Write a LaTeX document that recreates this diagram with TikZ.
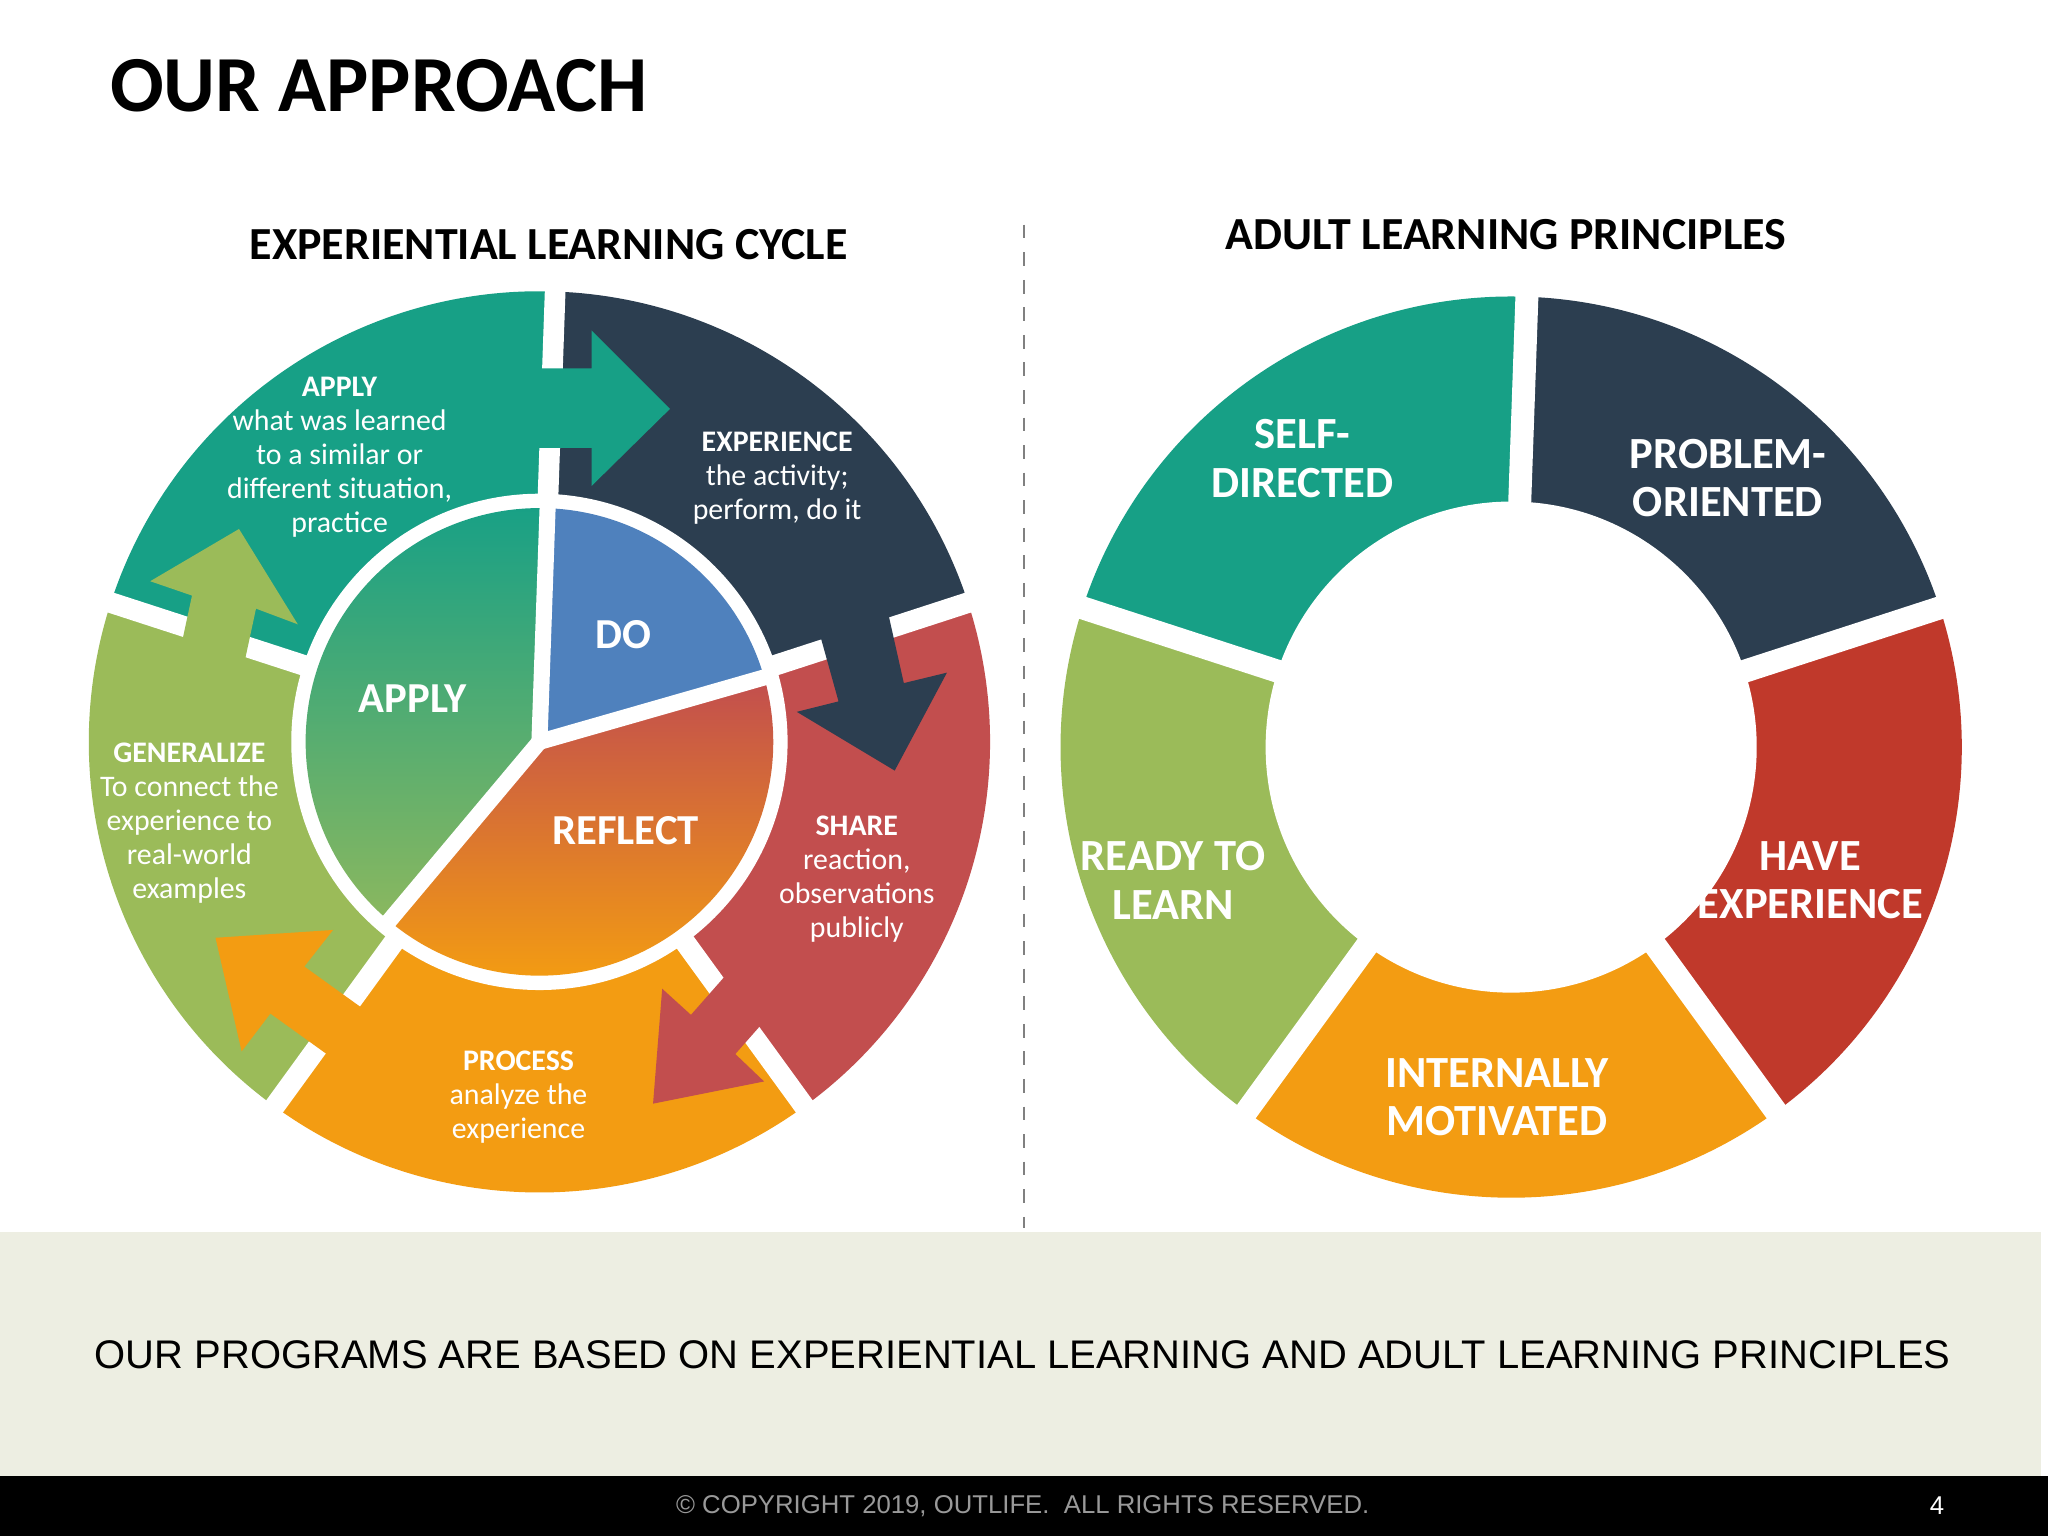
\documentclass[tikz,border=0pt]{standalone}
\usepackage{fontspec}
\setmainfont{Carlito}
\newfontfamily\arialf{Liberation Sans}
\definecolor{cteal}{HTML}{17A086}
\definecolor{cnavy}{HTML}{2C3E50}
\definecolor{cred}{HTML}{C24E4E}
\definecolor{cred2}{HTML}{C0392B}
\definecolor{corange}{HTML}{F39C12}
\definecolor{cgreen}{HTML}{9BBB59}
\definecolor{cblue}{HTML}{4F81BD}
\definecolor{cband}{HTML}{EDEEE2}
\newcommand\slice[5]{\fill[#5] (#1) -- ++(#2:#4) arc[start angle=#2,end angle=#3,radius=#4] -- cycle;}
\newcommand\gapline[3]{\draw[white,line width=#3] (#1) -- ++(#2:360);}
\tikzset{
 small/.style={align=center,text=white,font=\fontsize{6.5}{7.4}\selectfont},
 big/.style={align=center,text=white,font=\fontsize{9.7}{10.5}\selectfont\bfseries},
 inner/.style={text=white,font=\fontsize{9.3}{10}\selectfont\bfseries},
 head/.style={font=\fontsize{10}{12}\selectfont\bfseries}
}
\begin{document}
\begin{tikzpicture}[x=0.01cm,y=-0.01cm]
\useasboundingbox (0,0) rectangle (1568,1176);
\fill[white] (0,0) rectangle (1568,1176);
\fill[cband] (0,943) rectangle (1563,1130);
\fill[black] (0,1130) rectangle (1568,1176);
\draw[gray,dashed,line width=0.5pt] (784,172) -- (784,940);
\node[anchor=west,font=\fontsize{17.3}{20}\selectfont\bfseries] (title) at (72,66) {OUR APPROACH};
\node[head] (h1) at (420,187) {EXPERIENTIAL LEARNING CYCLE};
\node[head] (h2) at (1153,180) {ADULT LEARNING PRINCIPLES};
% ---------- left cycle
\coordinate (L) at (413,568);
\slice{L}{198}{272}{345}{cteal}
\slice{L}{-88}{-18}{345}{cnavy}
\slice{L}{-18}{54}{345}{cred}
\slice{L}{54}{126}{345}{corange}
\slice{L}{126}{198}{345}{cgreen}
\foreach \a in {-88,-18,54,126,198}{\gapline{L}{\a}{4.5pt}}
% arrows
\fill[cteal] (380,282)--(453,282)--(453,253)--(513,313)--(453,372)--(453,343)--(380,343)--cycle;
\fill[cnavy] (615,440)--(670,425)--(692,523)--(725,515)--(685,590)--(610,545)--(642,537)--cycle;
\fill[cred] (595,702)--(629,732)--(563,807)--(585,828)--(500,845)--(507,757)--(529,777)--cycle;
\fill[corange] (290,781)--(233,740)--(255,712)--(165,718)--(185,805)--(207,776)--(264,817)--cycle;
\fill[cgreen] (130,535)--(147,456)--(115,445)--(183,405)--(228,478)--(196,466)--(179,545)--cycle;
% inner pie
\fill[white] (L) circle[radius=190];
\slice{L}{-88}{-16}{179}{cblue}
\begin{scope}\clip (L) -- ++(-16:179) arc[start angle=-16,end angle=130,radius=179] -- cycle;
\shade[top color=cred,bottom color=corange] (230,520) rectangle (600,750);\end{scope}
\begin{scope}\clip (L) -- ++(130:179) arc[start angle=130,end angle=272,radius=179] -- cycle;
\shade[top color=cteal,bottom color=cgreen] (230,385) rectangle (420,750);\end{scope}
\foreach \a in {-88,-16,130}{\draw[white,line width=3.5pt] (L) -- ++(\a:185);}
\node[inner] (ido) at (477,486) {DO};
\node[inner] (iap) at (316,535) {APPLY};
\node[inner] (ire) at (479,636) {REFLECT};
\node[small] (tap) at (260,350) {\textbf{APPLY}\\what was learned\\to a similar or\\different situation,\\practice};
\node[small] (tex) at (595,366) {\textbf{EXPERIENCE}\\the activity;\\perform, do it};
\node[small] (tsh) at (656,673) {\textbf{SHARE}\\reaction,\\observations\\publicly};
\node[small] (tpr) at (397,840) {\textbf{PROCESS}\\analyze the\\experience};
\node[small] (tge) at (145,630) {\textbf{GENERALIZE}\\To connect the\\experience to\\real-world\\examples};
% ---------- right ring
\coordinate (R) at (1157,572);
\slice{R}{198}{272}{345}{cteal}
\slice{R}{-88}{-18}{345}{cnavy}
\slice{R}{-18}{54}{345}{cred2}
\slice{R}{54}{126}{345}{corange}
\slice{R}{126}{198}{345}{cgreen}
\foreach \a in {-88,-18,54,126,198}{\gapline{R}{\a}{5pt}}
\fill[white] (R) circle[radius=188];
\node[big] (r1) at (997,351) {SELF-\\DIRECTED};
\node[big] (r2) at (1323,366) {PROBLEM-\\ORIENTED};
\node[big] (r3) at (1386,674) {HAVE\\EXPERIENCE};
\node[big] (r4) at (1146,840) {INTERNALLY\\MOTIVATED};
\node[big] (r5) at (898,674) {READY TO\\LEARN};
% bottom
\node[font=\arialf\fontsize{8.7}{10}\selectfont] (bt) at (783,1037) {OUR PROGRAMS ARE BASED ON EXPERIENTIAL LEARNING AND ADULT LEARNING PRINCIPLES};
\node[text=gray!80,font=\arialf\fontsize{5.6}{7}\selectfont] (ft) at (783,1153) {© COPYRIGHT 2019, OUTLIFE.\ \ ALL RIGHTS RESERVED.};
\node[text=white,font=\arialf\fontsize{5.6}{7}\selectfont] (pg) at (1483,1153) {4};
\end{tikzpicture}
\end{document}
